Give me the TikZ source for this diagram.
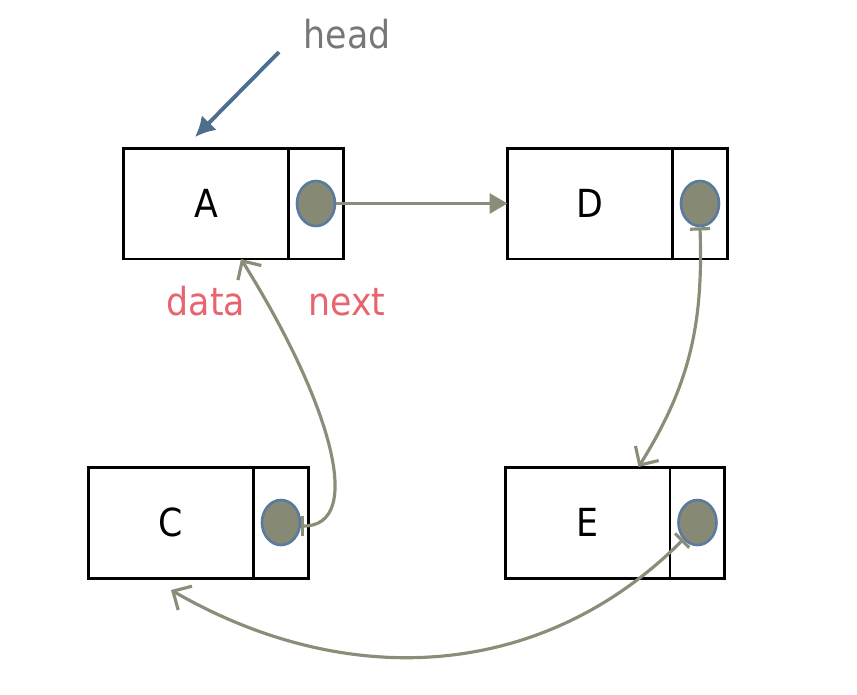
\documentclass[tikz,border=0pt]{standalone}
\usepackage{fontspec}
\setmainfont{DejaVu Sans Condensed}
\usetikzlibrary{positioning, shapes.geometric, arrows.meta}

\definecolor{linkgray}{HTML}{8A8D78}
\definecolor{ptrfill}{HTML}{868973}
\definecolor{ptredge}{HTML}{5A7B9E}
\definecolor{headblue}{HTML}{4D6F8D}
\definecolor{headgray}{HTML}{777777}
\definecolor{fieldred}{HTML}{E8646E}

\begin{document}
\begin{tikzpicture}[x=0.02cm, y=-0.02cm, font=\fontsize{22}{26}\selectfont,
		datacell/.style={draw, line width=1.7pt, minimum width=3.3cm, minimum height=2.22cm, inner sep=0pt, outer sep=0pt},
		nextcell/.style={draw, line width=1.7pt, minimum width=1.1cm, minimum height=2.22cm, inner sep=0pt, outer sep=0pt},
		ptr/.style={ellipse, draw=ptredge, fill=ptrfill, line width=1.5pt, minimum width=0.76cm, minimum height=0.9cm, inner sep=0pt},
		link/.style={draw=linkgray, line width=1.8pt},
		openlink/.style={link, {Bar[width=0.4cm]}-{Straight Barb[length=0.28cm,width=0.55cm]}}]
			\useasboundingbox (0,0) rectangle (857,694);
			
			\node (A) at (206, 203.5) [datacell] {A};
			\node (Anext) [nextcell, right=0pt of A] {};
			\node (Aptr) at (Anext.center) [ptr] {};
			
			\node (D) at (590, 203.5) [datacell] {D};
			\node (Dnext) [nextcell, right=0pt of D] {};
			\node (Dptr) at (Dnext.center) [ptr] {};
			
			\node (C) at (171, 522.5) [datacell] {C};
			\node (Cnext) [nextcell, right=0pt of C] {};
			\node (Cptr) at (Cnext.center) [ptr] {};
			
			\node (E) at (587.5, 522.5) [datacell] {E};
			\node (Enext) [nextcell, right=0pt of E] {};
			\node (Eptr) at (Enext.center) [ptr] {};
			
			\node (head) at (347, 48) [anchor=base, text=headgray] {head};
			\node (datalbl) at (206, 315) [anchor=base, text=fieldred] {data};
			\node (nextlbl) at (347, 315) [anchor=base, text=fieldred] {next};
			\coordinate (headtail) at (279, 52);
			
			\draw[draw=headblue, line width=2.2pt, -{Latex[length=0.4cm,width=0.42cm]}] (headtail) to ([xshift=-0.22cm, yshift=0.22cm]A.north);
			\draw[link, -{Triangle[length=0.36cm,width=0.4cm]}] (Aptr) to (D);
			\draw[openlink] (Dptr.south) to[out=-88, in=58] ([xshift=1.02cm]E.north);
			\draw[openlink] (Eptr.-130) to[out=-135, in=-30] ([yshift=-0.24cm]C.south);
			\draw[openlink] (Cptr.-10) to[out=0, in=-58, out looseness=0.6, in looseness=1.6] ([xshift=0.7cm]A.south);
		\end{tikzpicture}
\end{document}
